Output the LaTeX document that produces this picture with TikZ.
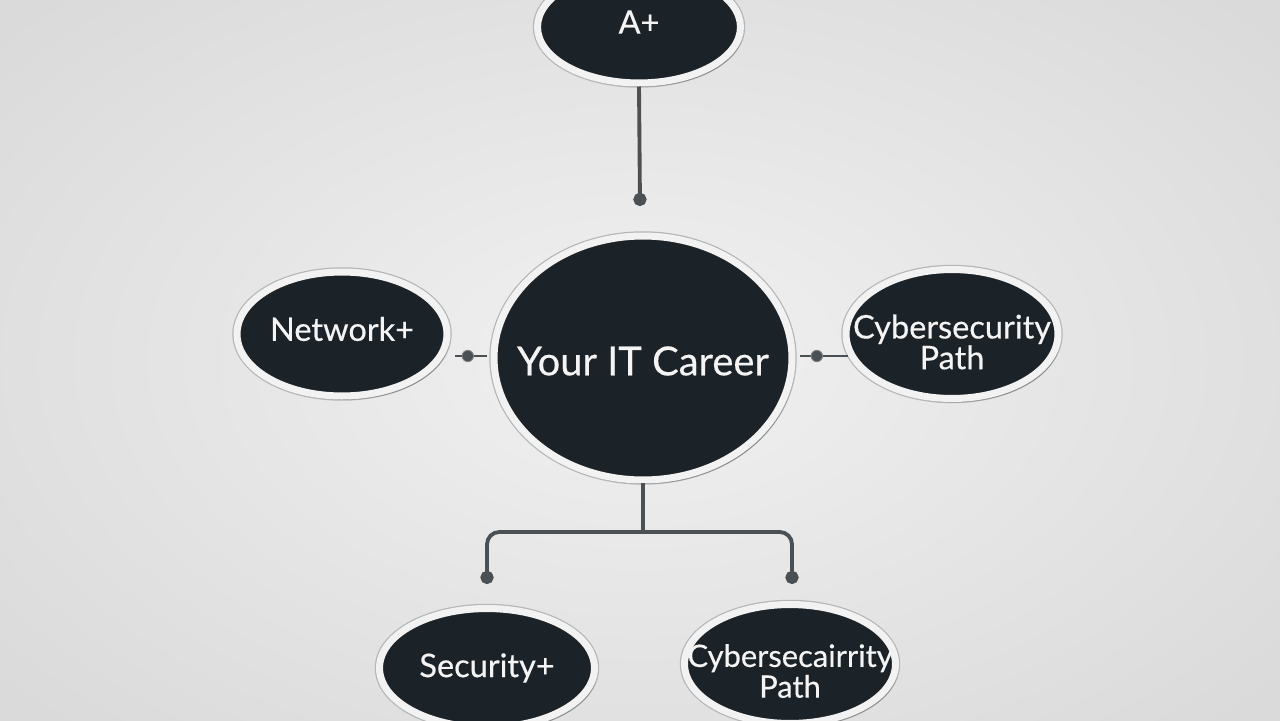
\documentclass[tikz,border=0pt]{standalone}
\usepackage{fontspec}
\usetikzlibrary{arrows.meta,shapes.geometric,shadows}
\newfontfamily\lbl[FakeBold=0.4]{Lato}
\definecolor{bgin}{HTML}{F1F1F1}
\definecolor{bgout}{HTML}{DADADA}
\definecolor{nodefill}{HTML}{1C2328}
\definecolor{ringc}{HTML}{F2F2F2}
\definecolor{ringedge}{HTML}{B4B6B7}
\definecolor{connc}{HTML}{4B5054}
\definecolor{txtc}{HTML}{F4F4F4}
\tikzset{
  bubble/.style={ellipse, inner sep=0pt, fill=nodefill, draw=ringc, line width=4pt,
    preaction={draw=ringedge, line width=5.4pt},
    drop shadow={shadow xshift=1.5pt, shadow yshift=-2.2pt, opacity=0.22, fill=black}},
  txt/.style={text=txtc, align=center, inner sep=0pt, font=\lbl\fontsize{18.5}{17.5}\selectfont},
  bigtxt/.style={txt, font=\lbl\fontsize{22.7}{26}\selectfont},
  conn/.style={draw=connc, line width=2.2pt},
  thinconn/.style={draw=connc, line width=1.3pt},
  ball/.style={circle, fill=connc, draw=connc!70!white, line width=0.5pt, inner sep=0pt, minimum size=6.5pt},
  pintip/.style={-{Circle[length=7.5pt, fill=connc]}}
}
\begin{document}
\begin{tikzpicture}[x=0.02cm, y=-0.02cm]
\useasboundingbox (0,0) rectangle (1280,720);
\shade[inner color=bgin, outer color=bgout] (-200,-150) rectangle (1480,870);
% nodes
\node[bubble, minimum width=4.06cm, minimum height=2.24cm] (aplus) at (639,27) {};
\node[bubble, minimum width=4.2cm, minimum height=2.48cm] (net) at (342,334) {};
\node[bubble, minimum width=4.24cm, minimum height=2.58cm] (cybR) at (952,334) {};
\node[bubble, minimum width=5.96cm, minimum height=4.88cm] (center) at (643,358) {};
\node[bubble, minimum width=4.3cm, minimum height=2.38cm] (sec) at (487,668) {};
\node[bubble, minimum width=4.22cm, minimum height=2.38cm] (cybB) at (790,664) {};
% texts
\node[txt] (aplusT) at ([yshift=0.1cm]aplus.center) {A+};
\node[txt] (netT) at ([yshift=0.1cm]net.center) {Network+};
\node[txt] (cybRT) at ([yshift=-0.16cm]cybR.center) {Cybersecurity\\Path};
\node[bigtxt] (centerT) at ([yshift=-0.06cm]center.center) {Your IT Career};
\node[txt] (secT) at (sec.center) {Security+};
\node[txt, font=\lbl\fontsize{17.6}{17.5}\selectfont] (cybBT) at ([yshift=-0.14cm]cybB.center) {Cybersecairrity\\Path};
% connector points
\coordinate (topT) at (640,206);
\coordinate (netR) at (455,356);
\coordinate (cenL) at (487,356);
\coordinate (cenR) at (800,356);
\coordinate (cybL) at (848,356);
\coordinate (bus) at (643,532);
\coordinate (tipSL) at (487,584);
\coordinate (tipSR) at (792,584);
% connectors
\draw[conn, pintip] (aplus.south) -- (topT);
\draw[thinconn] (netR) -- node[ball, pos=0.4] (bL) {} (cenL);
\draw[thinconn] (cenR) -- node[ball, pos=0.35] (bR) {} (cybL);
\draw[conn] (center.south) -- (bus);
\draw[conn, pintip, rounded corners=7] (bus) -| (tipSL);
\draw[conn, pintip, rounded corners=7] (bus) -| (tipSR);
\end{tikzpicture}
\end{document}
